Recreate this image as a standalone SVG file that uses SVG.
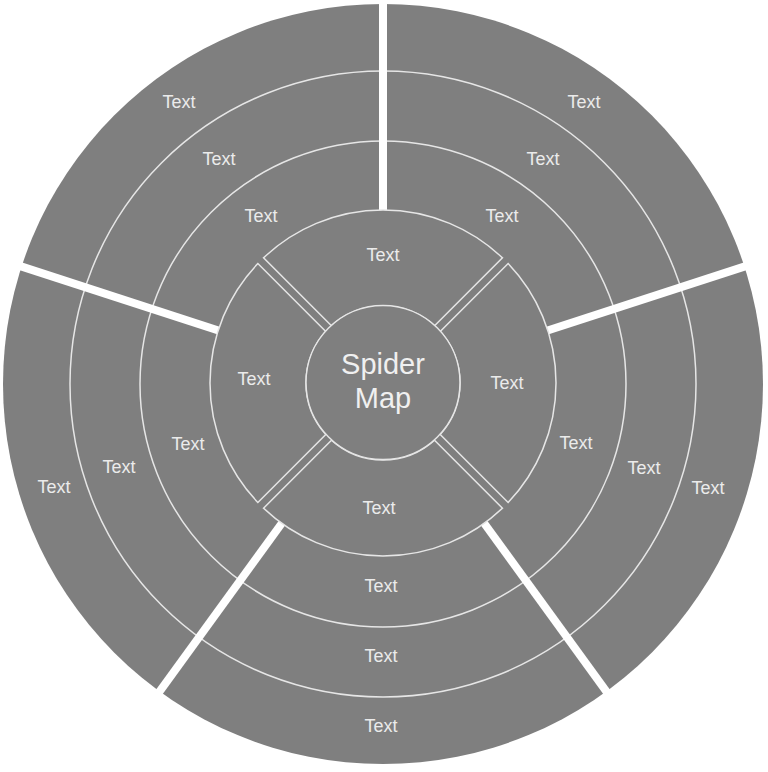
<svg xmlns="http://www.w3.org/2000/svg" width="768" height="772" viewBox="0 0 768 772">
<style>
.bg{fill:#ffffff}
.disc{fill:#7f7f7f}
.ring{fill:none;stroke:#e6e6e6;stroke-width:1.5}
.gap{stroke:#ffffff;stroke-width:8;stroke-linecap:butt}
.cell{fill:#7f7f7f;stroke:#e6e6e6;stroke-width:1.5;stroke-linejoin:miter}
.lbl{font-family:"Liberation Sans",Arial,sans-serif;font-size:18px;fill:#ebebeb;text-anchor:middle}
.title{font-family:"Liberation Sans",Arial,sans-serif;font-size:29px;fill:#f0f0f0;text-anchor:middle}
</style>
<defs>
<path id="wedge" d="M-119.47,-125.13 A173,173 0 0 1 119.47,-125.13 L51.55,-57.2 A77,77 0 0 0 -51.55,-57.2 Z"/>
</defs>
<rect class="bg" x="0" y="0" width="768" height="772"/>
<g id="backdrop">
<circle class="disc" cx="383" cy="384" r="380"/>
<circle class="ring" cx="383" cy="384" r="243"/>
<circle class="ring" cx="383" cy="384" r="313"/>
</g>
<g id="connectors">
<line class="gap" x1="383" y1="219" x2="383" y2="-16"/>
<line class="gap" x1="226.1" y1="333" x2="2.6" y2="260.4"/>
<line class="gap" x1="539.9" y1="333" x2="763.4" y2="260.4"/>
<line class="gap" x1="286" y1="517.5" x2="147.9" y2="707.6"/>
<line class="gap" x1="480" y1="517.5" x2="618.1" y2="707.6"/>
</g>
<g id="sector-top-left">
<text class="lbl" x="179" y="108">Text</text>
<text class="lbl" x="219" y="165">Text</text>
<text class="lbl" x="261" y="222">Text</text>
</g>
<g id="sector-top-right">
<text class="lbl" x="584" y="108">Text</text>
<text class="lbl" x="543" y="165">Text</text>
<text class="lbl" x="502" y="222">Text</text>
</g>
<g id="sector-left">
<text class="lbl" x="188" y="450">Text</text>
<text class="lbl" x="119" y="473">Text</text>
<text class="lbl" x="54" y="493">Text</text>
</g>
<g id="sector-right">
<text class="lbl" x="576" y="449">Text</text>
<text class="lbl" x="644" y="474">Text</text>
<text class="lbl" x="708" y="494">Text</text>
</g>
<g id="sector-bottom">
<text class="lbl" x="381" y="592">Text</text>
<text class="lbl" x="381" y="662">Text</text>
<text class="lbl" x="381" y="732">Text</text>
</g>
<g id="wedge-top">
<use href="#wedge" class="cell" transform="translate(383 383)"/>
<text class="lbl" x="383" y="261">Text</text>
</g>
<g id="wedge-right">
<use href="#wedge" class="cell" transform="translate(383 383) rotate(90)"/>
<text class="lbl" x="507" y="389">Text</text>
</g>
<g id="wedge-bottom">
<use href="#wedge" class="cell" transform="translate(383 383) rotate(180)"/>
<text class="lbl" x="379" y="514">Text</text>
</g>
<g id="wedge-left">
<use href="#wedge" class="cell" transform="translate(383 383) rotate(270)"/>
<text class="lbl" x="254" y="385">Text</text>
</g>
<g id="center">
<circle class="cell" cx="383" cy="382.5" r="77"/>
<text class="title" x="383" y="374">Spider</text>
<text class="title" x="383" y="408">Map</text>
</g>
</svg>
